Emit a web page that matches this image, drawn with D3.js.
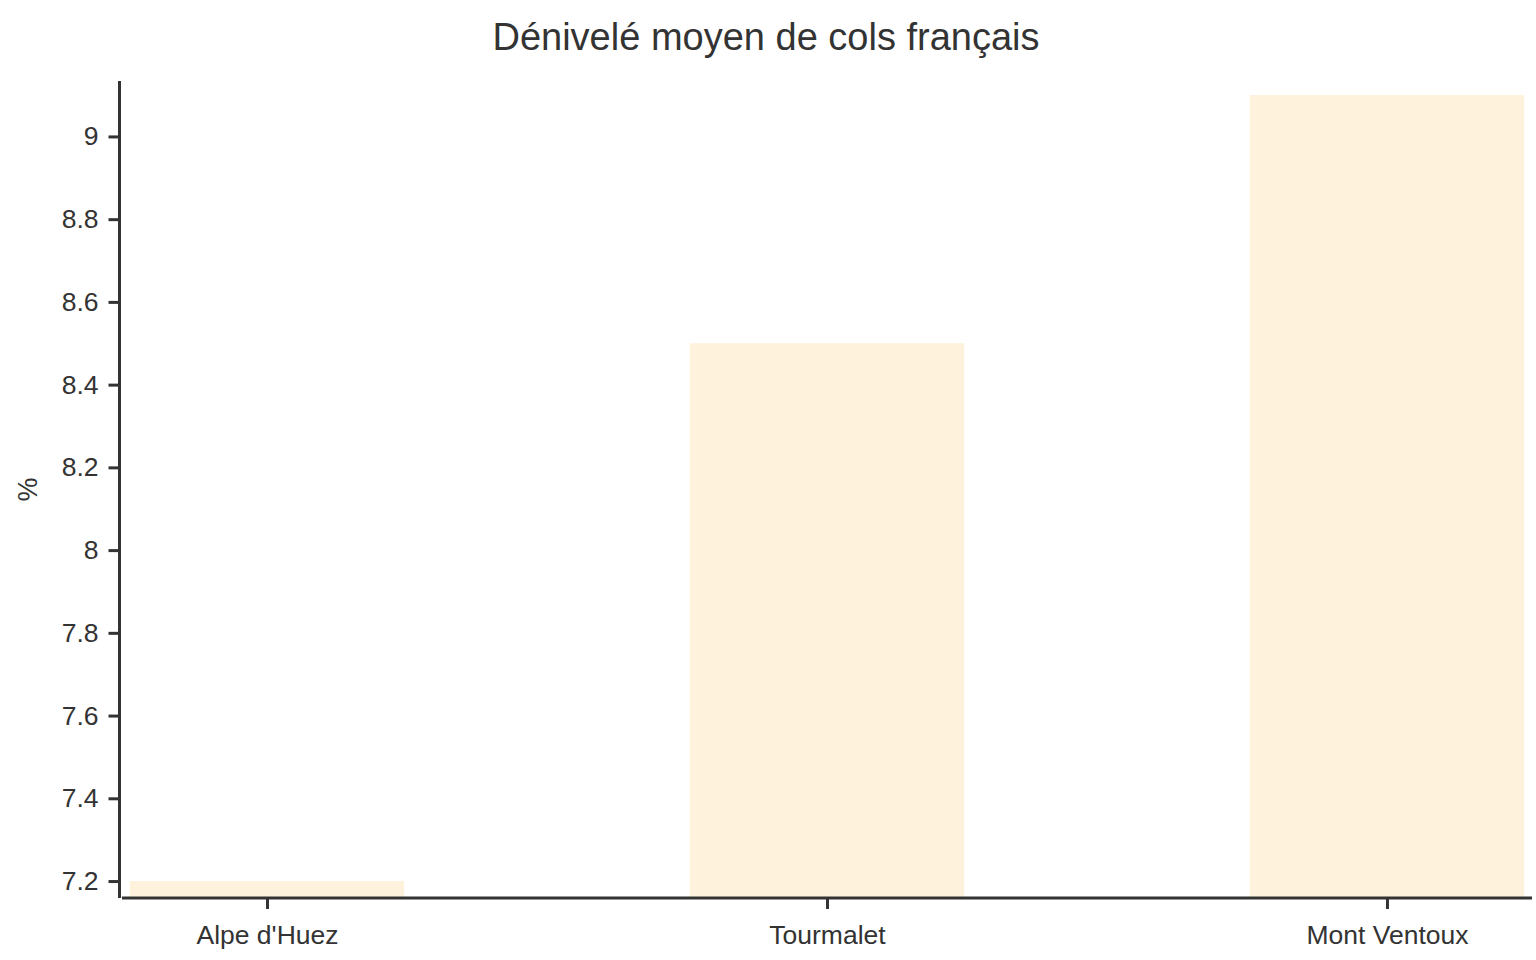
<!DOCTYPE html>
<html>
<head>
<meta charset="utf-8">
<script src="https://cdn.jsdelivr.net/npm/d3@7"></script>
<style>
  body { margin: 0; background: #fff; }
  svg text { font-family: "Liberation Sans", Arial, sans-serif; fill: #333; }
</style>
</head>
<body>
<div id="chart"></div>
<script>
// data
var cols = ["Alpe d'Huez", "Tourmalet", "Mont Ventoux"];
var pentes = [7.2, 8.5, 9.1];
var yTicks = [7.2, 7.4, 7.6, 7.8, 8, 8.2, 8.4, 8.6, 8.8, 9];

var width = 1536, height = 960;
var margin = {left: 119.5, right: 1532, top: 81, bottom: 898};

var svg = d3.select("#chart")
  .append("svg")
  .attr("width", width)
  .attr("height", height);

// x positions 0,1,2 with matplotlib-like margins
var x = d3.scaleLinear()
  .domain([-0.2634, 2.259])
  .range([margin.left, margin.right]);

var y = d3.scaleLinear()
  .domain([7.159, 9.134])
  .range([margin.bottom, margin.top]);

var barW = 0.49;

// bars
svg.selectAll(".bar")
  .data(pentes)
  .enter()
  .append("rect")
  .attr("class", "bar")
  .attr("x", function(d, i) { return x(i - barW / 2); })
  .attr("width", function(d, i) { return x(i + barW / 2) - x(i - barW / 2); })
  .attr("y", function(d) { return y(d); })
  .attr("height", function(d) { return y.range()[0] - y(d); })
  .attr("fill", "#fef2dc");

// y axis
var yAxis = svg.append("g")
  .attr("transform", "translate(" + margin.left + ",0)")
  .call(d3.axisLeft(y)
    .tickValues(yTicks)
    .tickFormat(d3.format("~g"))
    .tickSize(11)
    .tickPadding(10));

// x axis
var xAxis = svg.append("g")
  .attr("transform", "translate(0," + margin.bottom + ")")
  .call(d3.axisBottom(x)
    .tickValues(d3.range(cols.length))
    .tickFormat(function(i) { return cols[i]; })
    .tickSize(11)
    .tickPadding(16));

[yAxis, xAxis].forEach(function(ax) {
  ax.select(".domain").attr("stroke", "#333").attr("stroke-width", 3);
  ax.selectAll(".tick line").attr("stroke", "#333").attr("stroke-width", 3);
  ax.selectAll(".tick text")
    .attr("font-size", 26.5)
    .attr("fill", "#333")
    .style("font-family", "'Liberation Sans', Arial, sans-serif");
});
// no outer ticks on the spines
yAxis.select(".domain").attr("d", "M0," + margin.top + "V" + margin.bottom);
xAxis.select(".domain").attr("d", "M" + (margin.left + 2.5) + ",0H" + margin.right);

// y label
svg.append("text")
  .attr("transform", "translate(37," + ((margin.top + margin.bottom) / 2) + ") rotate(-90)")
  .attr("text-anchor", "middle")
  .attr("font-size", 27)
  .text("%");

// title
svg.append("text")
  .attr("x", 766)
  .attr("y", 50)
  .attr("text-anchor", "middle")
  .attr("font-size", 38)
  .text("Dénivelé moyen de cols français");
</script>
</body>
</html>
